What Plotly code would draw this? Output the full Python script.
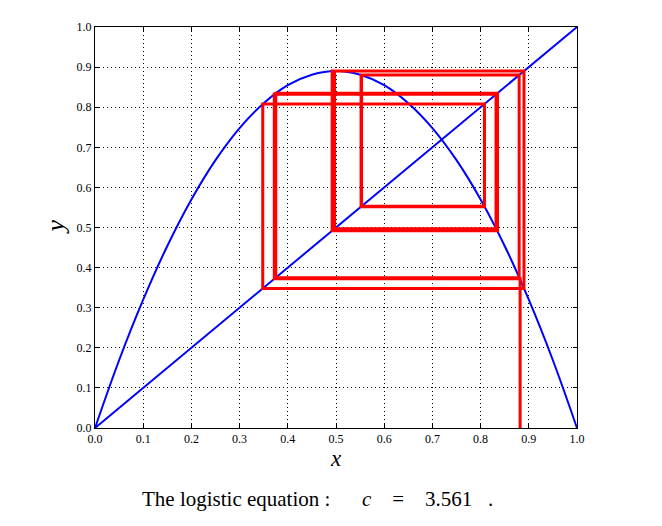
import plotly.graph_objects as go

# parabola y = c x (1 - x)
curve_x = [0.0, 0.05, 0.1, 0.15, 0.2, 0.25, 0.3, 0.35, 0.4, 0.45, 0.5,
           0.55, 0.6, 0.65, 0.7, 0.75, 0.8, 0.85, 0.9, 0.95, 1.0]
curve_y = [0.0, 0.169, 0.320, 0.454, 0.570, 0.668, 0.748, 0.810, 0.855, 0.881, 0.890,
           0.881, 0.855, 0.810, 0.748, 0.668, 0.570, 0.454, 0.320, 0.169, 0.0]

diag_x = [0.0, 1.0]
diag_y = [0.0, 1.0]

# successive iterates x_n of the cobweb
orbit = [0.882, 0.372, 0.832, 0.497, 0.890, 0.348, 0.808, 0.552,
         0.880, 0.375, 0.835, 0.492, 0.890, 0.348, 0.808, 0.553, 0.880]

ticks = [i / 10 for i in range(11)]
tick_labels = [f"{t:.1f}" for t in ticks]

# cobweb path: (x0,0) -> (x0,x1) -> (x1,x1) -> (x1,x2) -> ...
web_x = [orbit[0]]
web_y = [0.0]
for a, b in zip(orbit[:-1], orbit[1:]):
    web_x += [a, b]
    web_y += [b, b]

fig = go.Figure()
fig.add_trace(go.Scatter(x=curve_x, y=curve_y, mode="lines", line_shape="spline",
                         line=dict(color="#0000ff", width=2), showlegend=False))
fig.add_trace(go.Scatter(x=diag_x, y=diag_y, mode="lines",
                         line=dict(color="#0000ff", width=2), showlegend=False))
fig.add_trace(go.Scatter(x=web_x, y=web_y, mode="lines",
                         line=dict(color="#ff0000", width=3), showlegend=False))

axis = dict(
    range=[0, 1],
    tickvals=ticks,
    ticktext=tick_labels,
    ticks="inside",
    ticklen=4,
    tickcolor="black",
    showline=True,
    linecolor="black",
    linewidth=1,
    mirror="ticks",
    showgrid=True,
    gridcolor="black",
    gridwidth=1,
    griddash="1px,3px",
    zeroline=False,
    tickfont=dict(family="Liberation Serif", size=12, color="black"),
)

W, H = 646, 510
L, T = 87, 15
PW, PH = 482, 405

sp = "&nbsp;"
title = ("The logistic equation :" + sp * 6 + "<i>c</i>" + sp * 4 + "=" + sp * 4
         + "3.561" + sp * 3 + ".")

fig.update_layout(
    width=W,
    height=H,
    margin=dict(l=L, r=W - L - PW, t=T, b=H - T - PH),
    plot_bgcolor="white",
    paper_bgcolor="white",
    xaxis=axis,
    yaxis=axis,
    annotations=[
        dict(text="<i>x</i>", x=0.5, y=-31 / PH, xref="x domain", yref="y domain",
             xanchor="center", yanchor="middle", showarrow=False,
             font=dict(family="Liberation Serif", size=23, color="black")),
        dict(text="<i>y</i>", x=-40 / PW, y=0.5, xref="x domain", yref="y domain",
             xanchor="center", yanchor="middle", showarrow=False, textangle=-90,
             font=dict(family="Liberation Serif", size=26, color="black")),
        dict(text=title, x=(317 - 95) / PW, y=-(500 - 428) / PH,
             xref="x domain", yref="y domain", xanchor="center", yanchor="middle",
             showarrow=False,
             font=dict(family="Liberation Serif", size=21, color="black")),
    ],
)

fig.write_html("out.html")
